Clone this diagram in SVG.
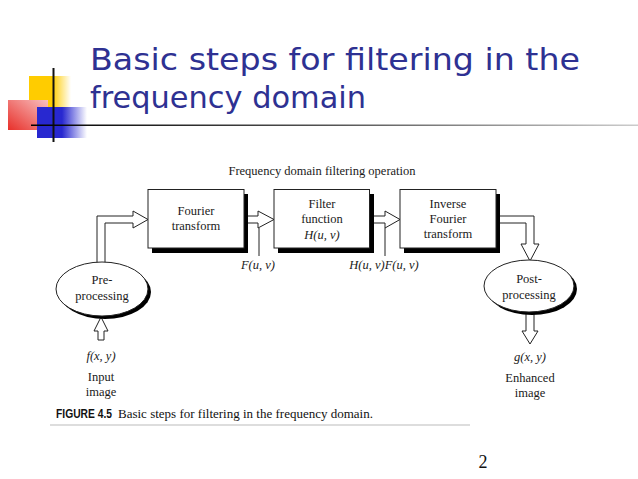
<svg xmlns="http://www.w3.org/2000/svg" width="638" height="479" viewBox="0 0 638 479">
<defs>
<linearGradient id="yel" x1="0" y1="0" x2="1" y2="0"><stop offset="0" stop-color="#FFCC00"/><stop offset="0.55" stop-color="#FFCC00"/><stop offset="1" stop-color="#FFCC00" stop-opacity="0"/></linearGradient>
<linearGradient id="red" x1="0" y1="1" x2="1" y2="0"><stop offset="0" stop-color="#E8302A"/><stop offset="1" stop-color="#F8C0C0"/></linearGradient>
<linearGradient id="blu" x1="0" y1="0" x2="1" y2="0"><stop offset="0" stop-color="#2828D0"/><stop offset="0.5" stop-color="#2828D0"/><stop offset="1" stop-color="#2828D0" stop-opacity="0"/></linearGradient>
<linearGradient id="rule" x1="0" y1="0" x2="1" y2="0"><stop offset="0" stop-color="#000"/><stop offset="0.5" stop-color="#555"/><stop offset="1" stop-color="#ccc"/></linearGradient>
<style>
.t{font-family:"Liberation Serif","Times New Roman",serif;font-size:12.5px;fill:#1a1a1a;text-anchor:middle}
.i{font-style:italic}
.box{fill:#fff;stroke:#222;stroke-width:1}
.sh{fill:#000}
.pipe{fill:#fff;stroke:#222;stroke-width:1;stroke-linejoin:miter}
.ln{stroke:#222;stroke-width:1;fill:none}
.title{font-family:"Comic Sans MS","DejaVu Sans",sans-serif;font-size:30px;fill:#2E3192}
</style>
</defs>
<rect width="638" height="479" fill="#fff"/>
<rect x="29" y="76" width="42" height="34" fill="url(#yel)"/>
<rect x="8" y="100" width="40" height="30" fill="url(#red)"/>
<rect x="37" y="107" width="50" height="31" fill="url(#blu)"/>
<line x1="53.5" y1="68" x2="53.5" y2="142" stroke="#111" stroke-width="2"/>
<rect x="31" y="124.5" width="607" height="1.5" fill="url(#rule)"/>
<text class="title" x="90" y="70" textLength="490" lengthAdjust="spacingAndGlyphs">Basic steps for filtering in the</text>
<text class="title" x="90" y="108" textLength="276" lengthAdjust="spacingAndGlyphs">frequency domain</text>
<text class="t" x="322" y="175">Frequency domain filtering operation</text>
<g id="connectors">
<path class="pipe" d="M97,268 L97,216 L133,216 L133,211 L148,219.5 L133,228 L133,223 L105,223 L105,268"/>
<path class="pipe" d="M246,216 L258,216 L258,211 L274,219.5 L258,228 L258,223 L246,223"/>
<line class="ln" x1="259" y1="228" x2="259" y2="256"/>
<path class="pipe" d="M372,216 L385,216 L385,211 L400,219.5 L385,228 L385,223 L372,223"/>
<line class="ln" x1="385" y1="228" x2="385" y2="256"/>
<path class="pipe" d="M498,216 L534,216 L534,244 L539,244 L530,261 L521,244 L526,244 L526,223 L498,223"/>
<path class="pipe" d="M98,340 L98,331 L94,331 L101,317 L108,331 L104,331 L104,340 Z"/>
<path class="pipe" d="M526,300 L526,331 L522,331 L530,344 L538,331 L534,331 L534,300"/>
</g>
<g id="fourier">
<rect class="sh" x="152" y="194" width="96" height="59"/>
<rect class="box" x="148" y="189.5" width="96" height="58.5"/>
<text class="t" x="196" y="215">Fourier</text>
<text class="t" x="196" y="230">transform</text>
</g>
<g id="filter">
<rect class="sh" x="278" y="194" width="96" height="59"/>
<rect class="box" x="274" y="189.5" width="95.5" height="58.5"/>
<text class="t" x="322" y="208">Filter</text>
<text class="t" x="322" y="223">function</text>
<text class="t i" x="322" y="239">H(u, v)</text>
</g>
<g id="inverse">
<rect class="sh" x="404" y="194" width="96" height="59"/>
<rect class="box" x="400" y="189.5" width="96" height="58.5"/>
<text class="t" x="448" y="208">Inverse</text>
<text class="t" x="448" y="223">Fourier</text>
<text class="t" x="448" y="238">transform</text>
</g>
<g id="pre">
<ellipse class="sh" cx="105" cy="292" rx="46" ry="27"/>
<ellipse class="box" cx="102" cy="289" rx="46" ry="27"/>
<text class="t" x="102" y="284">Pre-</text>
<text class="t" x="102" y="300">processing</text>
</g>
<g id="post">
<ellipse class="sh" cx="532" cy="289" rx="45" ry="26"/>
<ellipse class="box" cx="529" cy="286" rx="45" ry="26"/>
<text class="t" x="529" y="283">Post-</text>
<text class="t" x="529" y="299">processing</text>
</g>
<text class="t i" x="258" y="269">F(u, v)</text>
<text class="t i" x="384" y="269">H(u, v)F(u, v)</text>
<text class="t i" x="101" y="360">f(x, y)</text>
<text class="t" x="101" y="381">Input</text>
<text class="t" x="101" y="396">image</text>
<text class="t i" x="530" y="361">g(x, y)</text>
<text class="t" x="530" y="382">Enhanced</text>
<text class="t" x="530" y="397">image</text>
<text x="56" y="418" font-family="'Liberation Sans',Arial,sans-serif" font-weight="bold" font-size="12" fill="#111" textLength="56" lengthAdjust="spacingAndGlyphs">FIGURE 4.5</text>
<text x="118" y="418" font-family="'Liberation Serif','Times New Roman',serif" font-size="12.5" fill="#111" textLength="255" lengthAdjust="spacingAndGlyphs">Basic steps for filtering in the frequency domain.</text>
<line x1="50" y1="425" x2="470" y2="425" stroke="#bbb" stroke-width="1"/>
<text x="483" y="468" font-family="'Liberation Serif','Times New Roman',serif" font-size="18" fill="#111" text-anchor="middle">2</text>
</svg>
